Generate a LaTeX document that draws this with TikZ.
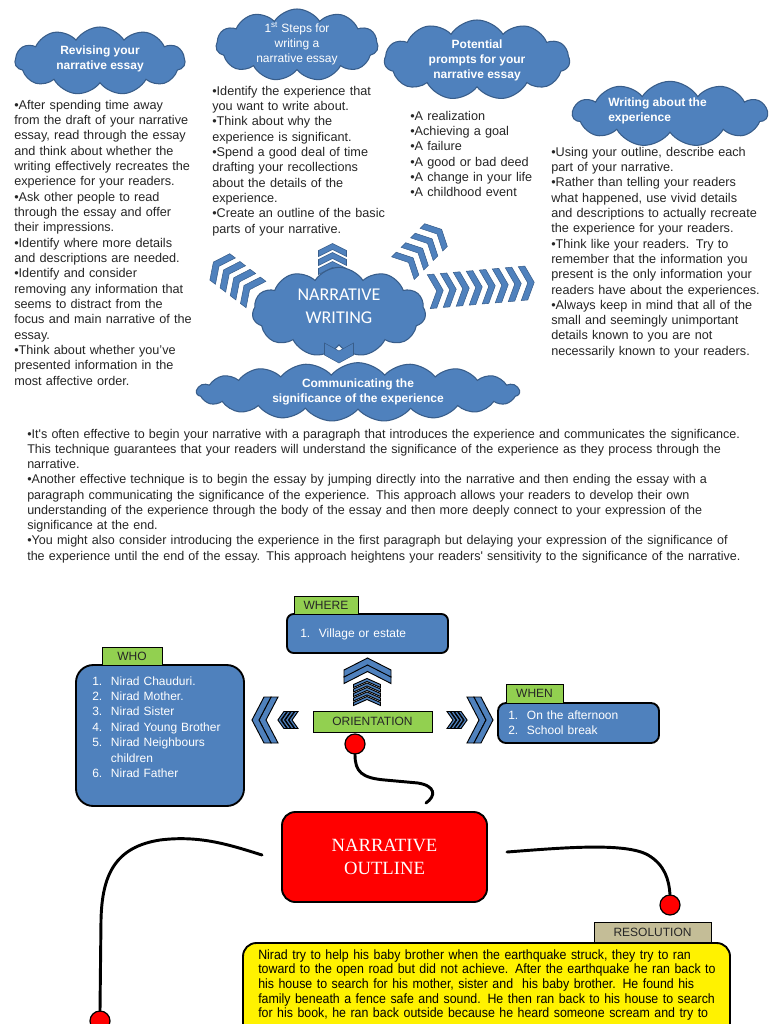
\documentclass[tikz,border=0pt]{standalone}
\usepackage{fontspec}
\setmainfont{Liberation Sans}
\newfontfamily\narrowfont[FakeStretch=0.99]{Liberation Sans}
\newfontfamily\condfont[FakeStretch=0.92]{Liberation Sans}
\newfontfamily\calfont{Carlito}
\newfontfamily\timesfont{Liberation Serif}
\usetikzlibrary{shapes.symbols}
\definecolor{cblue}{HTML}{4F81BD}
\definecolor{cline}{HTML}{385D8A}
\definecolor{cgreen}{HTML}{92D050}
\definecolor{ctan}{HTML}{C4BD97}
\definecolor{ctext}{HTML}{262626}
% chevron: style, x, y, angle, h, d, t
\newcommand{\chev}[7]{\path[#1, shift={(#2,#3)}, rotate=#4]
  ({-(#6+#7)/2},{-(#5)/2}) -- ({-(#6+#7)/2+#7},{-(#5)/2}) -- ({(#6+#7)/2},0)
  -- ({-(#6+#7)/2+#7},{(#5)/2}) -- ({-(#6+#7)/2},{(#5)/2}) -- ({-(#6+#7)/2+#6},0) -- cycle;}
\tikzset{
  cloudsty/.style={cloud, cloud puffs=11, cloud puff arc=115, cloud ignores aspect,
     fill=cblue, draw=cline, line width=0.8pt, inner sep=0pt},
  cloudtxt/.style={text=white, align=center, inner sep=0pt,
     font=\bfseries\fontsize{9}{11.3}\selectfont},
  body/.style={anchor=base west, inner sep=0pt, align=left, text=ctext,
     font=\fontsize{9.5}{11.5}\selectfont},
  topchev/.style={fill=cblue, draw=cline, line width=0.4pt},
  botchev/.style={fill=cblue, draw=black, line width=0.7pt},
  tagbox/.style={draw=black, line width=0.7pt, fill=cgreen, inner sep=0pt, text=ctext,
     font=\fontsize{9}{11}\selectfont},
  bluebox/.style={draw=black, line width=1.4pt, fill=cblue, inner sep=0pt},
  boxtxt/.style={anchor=base west, inner sep=0pt, align=left, text=white, text width=110pt,
     font=\fontsize{9}{11.5}\selectfont},
  reddot/.style={circle, fill=red, draw=black, line width=0.9pt, minimum size=15pt, inner sep=0pt},
  wire/.style={draw=black, line width=2.2pt, line cap=round}
}
\newcommand{\num}[1]{\makebox[14pt][l]{#1}}
\begin{document}
\begin{tikzpicture}[x=0.75pt,y=-0.75pt]
\useasboundingbox (0,0) rectangle (768,1024);
\clip (0,0) rectangle (768,1024);
\fill[white] (0,0) rectangle (768,1024);

% ---- top chevron groups (behind clouds)
\foreach \i in {0,...,7} { \chev{topchev}{436+13*\i}{291-1.15*\i}{5}{34}{8}{6.5} }
\foreach \i in {0,...,3} { \chev{topchev}{408+9.5*\i}{263-9.5*\i}{45}{32}{8}{6.5} }
\foreach \i in {0,...,3} { \chev{topchev}{250-10.2*\i}{290-7.8*\i}{143}{33}{8}{7} }
\foreach \i in {0,...,2} { \chev{topchev}{332.5}{268-9*\i}{90}{28}{7}{6} }

% ---- clouds
\node[cloudsty, minimum width=127.5pt, minimum height=51pt] (c1) at (100,61) {};
\node[cloudtxt] (c1t) at (100,59) {Revising your\\narrative essay};
\node[cloudsty, minimum width=121.5pt, minimum height=54pt] (c2) at (297,45) {};
\node[cloudtxt, font=\fontsize{9}{11.3}\selectfont] (c2t) at (297,44) {1\textsuperscript{st} Steps for\\writing a\\narrative essay};
\node[cloudsty, minimum width=139pt, minimum height=60pt] (c3) at (477,60) {};
\node[cloudtxt] (c3t) at (477,60) {Potential\\prompts for your\\narrative essay};
\node[cloudsty, minimum width=146pt, minimum height=49pt] (c4) at (670,114) {};
\node[cloudtxt, align=left, anchor=west] (c4t) at (608,111) {Writing about the\\experience};
\node[cloudsty, minimum width=130pt, minimum height=67pt] (c5) at (339,312) {};
\node[text=white, align=center, inner sep=0pt, font=\calfont\fontsize{13.5}{17}\selectfont] (c5t) at (339,306) {NARRATIVE\\WRITING};
\node[cloudsty, cloud puffs=19, cloud puff arc=100, minimum width=242pt, minimum height=44pt] (c6) at (358,392) {};
\node[cloudtxt] (c6t) at (358,392) {Communicating the\\significance of the experience};
\chev{topchev}{339}{353}{-90}{29}{8}{12}

% ---- columns of text
\node[body, text width=150pt] (col1) at (14,109) {%
\textbullet After spending time away\\
from the draft of your narrative\\
essay, read through the essay\\
and think about whether the\\
writing effectively recreates the\\
experience for your readers.\\
\textbullet Ask other people to read\\
through the essay and offer\\
their impressions.\\
\textbullet Identify where more details\\
and descriptions are needed.\\
\textbullet Identify and consider\\
removing any information that\\
seems to distract from the\\
focus and main narrative of the\\
essay.\\
\textbullet Think about whether you've\\
presented information in the\\
most affective order.};

\node[body, text width=150pt] (col2) at (212,95) {%
\textbullet Identify the experience that\\
you want to write about.\\
\textbullet Think about why the\\
experience is significant.\\
\textbullet Spend a good deal of time\\
drafting your recollections\\
about the details of the\\
experience.\\
\textbullet Create an outline of the basic\\
parts of your narrative.};

\node[body, text width=120pt] (col3) at (410,120) {%
\textbullet A realization\\
\textbullet Achieving a goal\\
\textbullet A failure\\
\textbullet A good or bad deed\\
\textbullet A change in your life\\
\textbullet A childhood event};

\node[body, text width=170pt] (col4) at (551,156) {%
\textbullet Using your outline, describe each\\
part of your narrative.\\
\textbullet Rather than telling your readers\\
what happened, use vivid details\\
and descriptions to actually recreate\\
the experience for your readers.\\
\textbullet Think like your readers. Try to\\
remember that the information you\\
present is the only information your\\
readers have about the experiences.\\
\textbullet Always keep in mind that all of the\\
small and seemingly unimportant\\
details known to you are not\\
necessarily known to your readers.};

\node[body, text width=570pt, font=\narrowfont\fontsize{9.5}{11.45}\selectfont] (para) at (27,438) {%
\textbullet It's often effective to begin your narrative with a paragraph that introduces the experience and communicates the significance.\\
This technique guarantees that your readers will understand the significance of the experience as they process through the\\
narrative.\\
\textbullet Another effective technique is to begin the essay by jumping directly into the narrative and then ending the essay with a\\
paragraph communicating the significance of the experience. This approach allows your readers to develop their own\\
understanding of the experience through the body of the essay and then more deeply connect to your expression of the\\
significance at the end.\\
\textbullet You might also consider introducing the experience in the first paragraph but delaying your expression of the significance of\\
the experience until the end of the essay. This approach heightens your readers' sensitivity to the significance of the narrative.};

% ---- bottom: boxes
\node[bluebox, rounded corners=5pt, minimum width=120.75pt, minimum height=29.25pt] (where) at (367.5,633.5) {};
\node[boxtxt] (wheret) at (300,637) {\num{1.}Village or estate};
\node[tagbox, minimum width=48pt, minimum height=13.5pt] (wherelab) at (326,605) {WHERE};

\node[bluebox, rounded corners=13pt, minimum width=126pt, minimum height=105.75pt] (who) at (160,735.5) {};
\node[boxtxt, font=\fontsize{9}{11.55}\selectfont] (whot) at (92,685) {%
\num{1.}Nirad Chauduri.\\
\num{2.}Nirad Mother.\\
\num{3.}Nirad Sister\\
\num{4.}Nirad Young Brother\\
\num{5.}Nirad Neighbours\\
\num{}children\\
\num{6.}Nirad Father};
\node[tagbox, minimum width=45pt, minimum height=13.5pt] (wholab) at (132,656) {WHO};

\node[bluebox, rounded corners=6pt, minimum width=120.75pt, minimum height=30pt] (when) at (578.5,723) {};
\node[boxtxt, font=\fontsize{9}{11.25}\selectfont] (whent) at (508,719) {\num{1.}On the afternoon\\\num{2.}School break};
\node[tagbox, minimum width=42.75pt, minimum height=14.25pt] (whenlab) at (534.5,693.5) {WHEN};

\node[tagbox, minimum width=89.25pt, minimum height=15.75pt] (orient) at (372.5,721.5) {ORIENTATION};

% ---- bottom chevrons
\chev{botchev}{268.5}{720}{180}{46}{12}{7}
\chev{botchev}{261.5}{720}{180}{46}{12}{7}
\foreach \i in {0,...,3} { \chev{botchev}{293.5-3.7*\i}{720}{180}{17}{6}{3} }
\chev{botchev}{476.5}{720}{0}{46}{12}{7}
\chev{botchev}{483.5}{720}{0}{46}{12}{7}
\foreach \i in {0,...,3} { \chev{botchev}{451.5+3.7*\i}{720}{0}{17}{6}{3} }
\chev{botchev}{367.5}{674}{90}{47}{12}{7}
\chev{botchev}{367.5}{667.5}{90}{47}{12}{7}
\foreach \i in {0,...,4} { \chev{botchev}{367}{701-4.5*\i}{90}{27}{6}{3} }

% ---- narrative outline
\node[draw=black, line width=1.4pt, fill=red, rounded corners=10pt, minimum width=153.75pt,
  minimum height=67.5pt, text=white, align=center, font=\timesfont\fontsize{14}{17}\selectfont]
  (outline) at (384.5,857) {NARRATIVE\\OUTLINE};

\node[draw=black, line width=0.7pt, fill=ctan, inner sep=0pt, minimum width=87.75pt, minimum height=15.75pt,
  text=ctext, font=\fontsize{9}{11}\selectfont] (reslab) at (652.5,932.5) {RESOLUTION};
\node[draw=black, line width=1.4pt, fill=yellow, rounded corners=10pt, minimum width=365.25pt,
  minimum height=102.75pt, inner sep=0pt] (res) at (486.5,1011.5) {};
\node[anchor=base west, inner sep=0pt, align=left, text=black, text width=380pt,
  font=\condfont\fontsize{10.1}{11}\selectfont] (rest) at (258,959) {%
Nirad try to help his baby brother when the earthquake struck, they try to ran\\
toward to the open road but did not achieve. After the earthquake he ran back to\\
his house to search for his mother, sister and\ \ his baby brother. He found his\\
family beneath a fence safe and sound. He then ran back to his house to search\\
for his book, he ran back outside because he heard someone scream and try to};

% ---- dots and wires
\node[reddot] (dot1) at (355,744) {};
\node[reddot] (dot2) at (670,905) {};
\node[reddot] (dot3) at (100,1021) {};
\coordinate (w1end) at (426,803);
\coordinate (w2start) at (507,852);
\coordinate (w3start) at (262,855);
\draw[wire] (dot1.south) .. controls (355,772) and (362,778) .. (385,780)
   -- (418,783) .. controls (436,786) and (436,796) .. (w1end);
\draw[wire] (w2start) .. controls (560,848) and (625,842) .. (648,855)
   .. controls (665,865) and (669,880) .. (dot2.north);
\draw[wire] (w3start) .. controls (230,845) and (200,835) .. (160,840)
   .. controls (115,847) and (102,875) .. (101,920) -- (dot3.north);
\end{tikzpicture}
\end{document}
